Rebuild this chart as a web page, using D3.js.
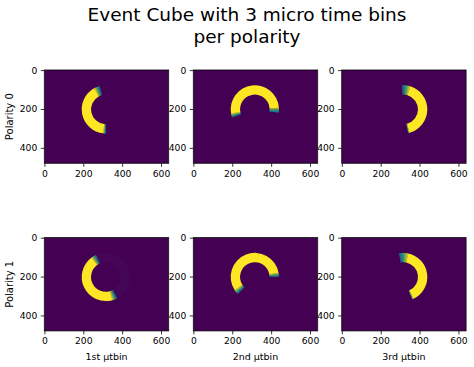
<!DOCTYPE html>
<html><head><meta charset="utf-8">
<script src="https://cdn.jsdelivr.net/npm/d3@7"></script>
<style>body{margin:0;background:#fff}text{font-family:"DejaVu Sans",sans-serif;fill:#000}</style>
</head><body><svg id="c" width="474" height="367"></svg>
<script>
const polarities = ["Polarity 0", "Polarity 1"];
const binLabels = ["1st µtbin", "2nd µtbin", "3rd µtbin"];
const xTicks = [0, 200, 400, 600];
const yTicks = [0, 200, 400];
const sensorSize = [640, 480];
const ringCenter = [316, 202];
const ringRadii = [76, 124];
// arc angle ranges in degrees (clockwise from +x, image y down), [polarity][bin]
const arcStart = [[90, 160, 267], [62, 135, 260]];
const arcEnd = [[255, 368, 438], [246, 360, 428]];
const fadeAtStart = [[6, 10, 20], [12, 12, 22]];
const fadeAtEnd = [[14, 12, 3], [12, 10, 3]];
const faintRing = [[0, 0, 0], [0.012, 0, 0]];

const svg = d3.select("#c");
const colX = [44.3, 193.3, 341.7], rowY = [70, 237.6];
const W = 124.4, H = 93.3;
const color = d3.interpolateViridis;
const toRad = d => (d + 90) * Math.PI / 180;

svg.append("text").attr("x", 247).attr("y", 21).attr("text-anchor", "middle")
  .style("font-size", "18.5px").text("Event Cube with 3 micro time bins");
svg.append("text").attr("x", 247).attr("y", 43).attr("text-anchor", "middle")
  .style("font-size", "18.5px").text("per polarity");

polarities.forEach((pol, r) => {
  binLabels.forEach((bl, c) => {
    const x = d3.scaleLinear().domain([-0.5, sensorSize[0] - 0.5]).range([0, W]);
    const y = d3.scaleLinear().domain([-0.5, sensorSize[1] - 0.5]).range([0, H]);
    const g = svg.append("g").attr("transform", `translate(${colX[c]},${rowY[r]})`);
    const id = `clip${r}${c}`;
    g.append("clipPath").attr("id", id).append("rect").attr("width", W).attr("height", H);
    const img = g.append("g").attr("clip-path", `url(#${id})`);
    img.append("rect").attr("width", W).attr("height", H).attr("fill", color(0));
    const k = x(1) - x(0);
    const arc = d3.arc().innerRadius(ringRadii[0] * k).outerRadius(ringRadii[1] * k);
    const ag = img.append("g").attr("transform", `translate(${x(ringCenter[0])},${y(ringCenter[1])})`);
    if (faintRing[r][c] > 0) {
      ag.append("path").attr("d", arc({startAngle: 0, endAngle: 2 * Math.PI})).attr("fill", color(faintRing[r][c]));
    }
    const s = arcStart[r][c], e = arcEnd[r][c], fs = fadeAtStart[r][c], fe = fadeAtEnd[r][c];
    ag.append("path").attr("d", arc({startAngle: toRad(s + fs), endAngle: toRad(e - fe)})).attr("fill", color(1));
    const N = 12;
    for (let i = 0; i < N; i++) {
      const t = (i + 0.5) / N;
      if (fs > 0) {
        const a0 = s + fs * i / N, a1 = s + fs * (i + 1) / N;
        ag.append("path").attr("d", arc({startAngle: toRad(a0), endAngle: toRad(a1) + 0.005}))
          .attr("fill", color(0.3 + 0.7 * t));
      }
      if (fe > 0) {
        const a0 = e - fe * (i + 1) / N, a1 = e - fe * i / N;
        ag.append("path").attr("d", arc({startAngle: toRad(a0) - 0.005, endAngle: toRad(a1)}))
          .attr("fill", color(0.3 + 0.7 * t));
      }
    }
    g.append("rect").attr("width", W).attr("height", H).attr("fill", "none").attr("stroke", "#000").attr("stroke-width", 0.8);
    const xa = g.append("g").attr("transform", `translate(0,${H})`).call(d3.axisBottom(x).tickValues(xTicks).tickSize(3.5).tickPadding(3.5));
    const ya = g.append("g").call(d3.axisLeft(y).tickValues(yTicks).tickSize(3.5).tickPadding(3.5));
    [xa, ya].forEach(a => {
      a.select(".domain").remove();
      a.selectAll("text").style("font-size", "9.2px").style("font-family", "DejaVu Sans").attr("fill", "#000");
      a.selectAll("line").attr("stroke", "#000").attr("stroke-width", 0.8);
    });
    if (c === 0) {
      g.append("text").attr("transform", `translate(-31,${H / 2}) rotate(-90)`).attr("text-anchor", "middle")
        .style("font-size", "10px").text(pol);
    }
    if (r === 1) {
      g.append("text").attr("x", W / 2).attr("y", H + 29).attr("text-anchor", "middle")
        .style("font-size", "9.5px").text(bl);
    }
  });
});
</script></body></html>
